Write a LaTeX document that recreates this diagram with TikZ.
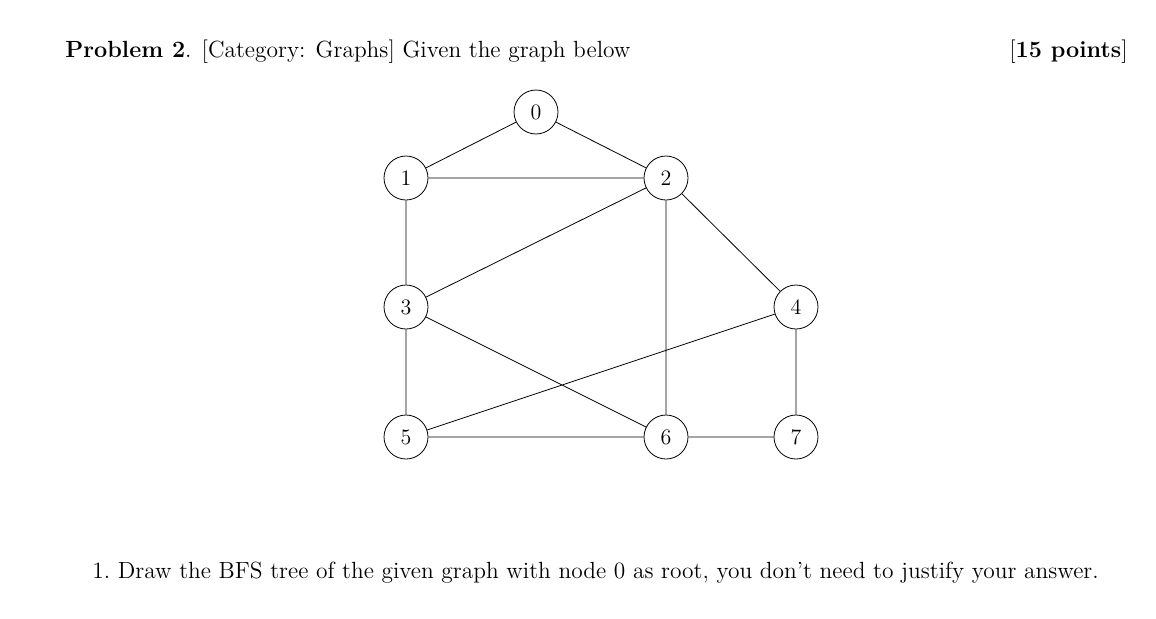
\documentclass[tikz,border=0pt]{standalone}
\begin{document}
\begin{tikzpicture}[x=0.5pt,y=-0.5pt,
  vtx/.style={circle,draw,minimum size=22pt,inner sep=0pt,font=\fontsize{11}{13}\selectfont},
  txt/.style={font=\fontsize{11.7}{14}\selectfont,inner sep=0pt}]
\useasboundingbox (0,0) rectangle (1156,618);
\node[txt,anchor=base west] (t) at (65,57) {\textbf{Problem 2}. [Category: Graphs] Given the graph below};
\node[txt,anchor=base east] (p) at (1128,57) {[\textbf{15 points}]};
\node[vtx] (n0) at (536,112) {0};
\node[vtx] (n1) at (406,178) {1};
\node[vtx] (n2) at (666,178) {2};
\node[vtx] (n3) at (406,307) {3};
\node[vtx] (n4) at (796,307) {4};
\node[vtx] (n5) at (406,437) {5};
\node[vtx] (n6) at (666,437) {6};
\node[vtx] (n7) at (796,437) {7};
\draw (n0)--(n1) (n0)--(n2) (n1)--(n2) (n1)--(n3) (n2)--(n3) (n2)--(n4) (n2)--(n6)
 (n3)--(n5) (n3)--(n6) (n4)--(n5) (n4)--(n7) (n5)--(n6) (n6)--(n7);
\node[txt,anchor=base west] (q) at (92,578) {1.\ Draw the BFS tree of the given graph with node 0 as root, you don't need to justify your answer.};
\end{tikzpicture}
\end{document}
